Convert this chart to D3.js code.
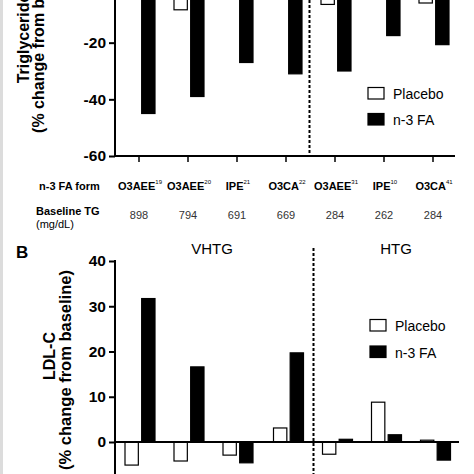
<!DOCTYPE html>
<html><head><meta charset="utf-8">
<script src="https://cdn.jsdelivr.net/npm/d3@7"></script>
<style>
html,body{margin:0;padding:0;background:#fff;}
svg{display:block;font-family:"Liberation Sans",Arial,sans-serif;}
</style></head>
<body>
<svg id="chart" width="474" height="474"></svg>
<script>
// ---- data ----
const forms = ["O3AEE","O3AEE","IPE","O3CA","O3AEE","IPE","O3CA"];
const refs = ["19","20","21","22","31","10","41"];
const baselineTG = [898,794,691,669,284,262,284];
const series = ["Placebo","n-3 FA"];
const tgPlacebo = [-3,-8.4,-4,-3,-6.5,-4,-6];
const tgN3 = [-45,-39,-27,-31,-30,-17.5,-20.7];
const ldlPlacebo = [-5.1,-4.2,-2.9,3.1,-2.7,8.8,0.4];
const ldlN3 = [31.7,16.6,-4.6,19.7,0.6,1.6,-4.0];
const tgTicks = [-60,-40,-20];
const ldlTicks = [0,10,20,30,40];
const groupLabels = ["VHTG","HTG"];

const svg = d3.select("#chart");
const font = "'Liberation Sans', Arial, sans-serif";
const fmt = v => String(v);
svg.append("rect").attr("x",0).attr("y",0).attr("width",474).attr("height",474).attr("fill","#fff");
svg.append("rect").attr("x",0).attr("y",0).attr("width",3).attr("height",474).attr("fill","#dcdcdc");

const idx = d3.range(forms.length);
const x = d3.scalePoint().domain(idx).range([139,433]);
const xs = d3.scaleBand().domain(series).range([-14,16]).paddingInner(0.2);
const axisX0 = 115;

// ===== Panel A =====
const yA = d3.scaleLinear().domain([-60,0]).range([156,-14]);
const gA = svg.append("g");
const dataA = idx.map(i => ({i, vals:[tgPlacebo[i], tgN3[i]]}));
gA.selectAll("g.grp").data(dataA).join("g").attr("class","grp")
  .selectAll("rect").data(d => d.vals.map((v,k)=>({i:d.i,v,k}))).join("rect")
  .attr("x", d => x(d.i) + xs(series[d.k]))
  .attr("width", xs.bandwidth())
  .attr("y", d => Math.min(yA(0), yA(d.v)))
  .attr("height", d => Math.abs(yA(d.v)-yA(0)))
  .attr("fill", d => d.k===0 ? "#fff" : "#000")
  .attr("stroke","#000").attr("stroke-width",1.2);

// y axis A
const axA = gA.append("g").attr("transform",`translate(${axisX0},0)`)
  .call(d3.axisLeft(yA).tickValues(tgTicks).tickFormat(fmt).tickSize(6).tickPadding(3).tickSizeOuter(0));
axA.select(".domain").remove();
axA.selectAll(".tick line").attr("stroke-width",2);
axA.selectAll("text").attr("font-family",font).attr("font-size",15.5).attr("font-weight","bold").attr("fill","#000");
gA.append("line").attr("x1",axisX0).attr("x2",axisX0).attr("y1",0).attr("y2",yA(-60)+1).attr("stroke","#000").attr("stroke-width",2);
// x axis A
gA.append("line").attr("x1",axisX0-1).attr("x2",455).attr("y1",yA(-60)).attr("y2",yA(-60)).attr("stroke","#000").attr("stroke-width",2);
gA.selectAll("line.xt").data(idx).join("line").attr("class","xt")
  .attr("x1",d=>x(d)).attr("x2",d=>x(d)).attr("y1",yA(-60)).attr("y2",yA(-60)+6)
  .attr("stroke","#000").attr("stroke-width",1.5);
// dashed separator
const sep = (x(3)+x(4))/2;
gA.append("line").attr("x1",sep-1).attr("x2",sep-1).attr("y1",0).attr("y2",yA(-60))
  .attr("stroke","#000").attr("stroke-width",2).attr("stroke-dasharray","3,2");
// y label A
gA.append("text").attr("transform","translate(28.5,34) rotate(-90)").attr("text-anchor","middle")
  .attr("font-family",font).attr("font-size",16).attr("font-weight","bold").text("Triglycerides");
gA.append("text").attr("transform","translate(43.5,36) rotate(-90)").attr("text-anchor","middle")
  .attr("font-family",font).attr("font-size",16).attr("font-weight","bold").text("(% change from baseline)");
// legend
function legend(g, lx, ly0, ly1, tx){
  const rows=[{s:series[0],y:ly0,f:"#fff"},{s:series[1],y:ly1,f:"#000"}];
  rows.forEach(r=>{
    g.append("rect").attr("x",lx).attr("y",r.y).attr("width",16).attr("height",11.5)
      .attr("fill",r.f).attr("stroke","#000").attr("stroke-width",1.2);
    g.append("text").attr("x",tx).attr("y",r.y+11.5).attr("font-family",font).attr("font-size",14)
      .attr("fill","#000").text(r.s);
  });
}
legend(gA, 368, 87.5, 113.5, 393);

// ===== table =====
const gT = svg.append("g").attr("font-family",font);
gT.append("text").attr("x",39).attr("y",190).attr("font-size",11).attr("font-weight","bold").text("n-3 FA form");
const fl = gT.selectAll("text.form").data(idx).join("text").attr("class","form")
  .attr("x",d=>x(d)+1).attr("y",190).attr("text-anchor","middle").attr("font-size",11).attr("font-weight","bold");
fl.append("tspan").text(d=>forms[d]);
fl.append("tspan").attr("font-size",6).attr("font-weight","normal").attr("dy",-6).text(d=>refs[d]);
gT.append("text").attr("x",36).attr("y",215).attr("font-size",11).attr("font-weight","bold").text("Baseline TG");
gT.append("text").attr("x",36).attr("y",228).attr("font-size",11).text("(mg/dL)");
gT.selectAll("text.bl").data(idx).join("text").attr("class","bl")
  .attr("x",d=>x(d)).attr("y",219).attr("text-anchor","middle").attr("font-size",11).attr("fill","#333")
  .text(d=>baselineTG[d]);

// ===== Panel B =====
const yB = d3.scaleLinear().domain([0,40]).range([442,261]);
const gB = svg.append("g");
gB.append("text").attr("x",16).attr("y",258).attr("font-family",font).attr("font-size",17).attr("font-weight","bold").text("B");
gB.append("text").attr("x",212).attr("y",254).attr("text-anchor","middle").attr("font-family",font).attr("font-size",15).text(groupLabels[0]);
gB.append("text").attr("x",396).attr("y",254).attr("text-anchor","middle").attr("font-family",font).attr("font-size",15).text(groupLabels[1]);

const dataB = idx.map(i => ({i, vals:[ldlPlacebo[i], ldlN3[i]]}));
gB.selectAll("g.grp").data(dataB).join("g").attr("class","grp")
  .selectAll("rect").data(d => d.vals.map((v,k)=>({i:d.i,v,k}))).join("rect")
  .attr("x", d => x(d.i) + xs(series[d.k]) + (d.i>=3?1.5:0))
  .attr("width", xs.bandwidth())
  .attr("y", d => Math.min(yB(0), yB(d.v)))
  .attr("height", d => Math.abs(yB(d.v)-yB(0)))
  .attr("fill", d => d.k===0 ? "#fff" : "#000")
  .attr("stroke","#000").attr("stroke-width",1.2);

const axB = gB.append("g").attr("transform",`translate(${axisX0},0)`)
  .call(d3.axisLeft(yB).tickValues(ldlTicks).tickFormat(fmt).tickSize(6).tickPadding(3).tickSizeOuter(0));
axB.select(".domain").remove();
axB.selectAll(".tick line").attr("stroke-width",2);
axB.selectAll("text").attr("font-family",font).attr("font-size",15.5).attr("font-weight","bold").attr("fill","#000");
gB.append("line").attr("x1",axisX0).attr("x2",axisX0).attr("y1",yB(40)-1).attr("y2",474).attr("stroke","#000").attr("stroke-width",2);
gB.append("line").attr("x1",axisX0).attr("x2",459).attr("y1",yB(0)).attr("y2",yB(0)).attr("stroke","#000").attr("stroke-width",2);
gB.append("line").attr("x1",sep+3).attr("x2",sep+3).attr("y1",248).attr("y2",474)
  .attr("stroke","#000").attr("stroke-width",2).attr("stroke-dasharray","3,2");
gB.append("text").attr("transform","translate(55,356) rotate(-90)").attr("text-anchor","middle")
  .attr("font-family",font).attr("font-size",16).attr("font-weight","bold").text("LDL-C");
gB.append("text").attr("transform","translate(71,370) rotate(-90)").attr("text-anchor","middle")
  .attr("font-family",font).attr("font-size",16.5).attr("font-weight","bold").text("(% change from baseline)");
legend(gB, 370, 319.5, 346, 395);
</script>
</body></html>
